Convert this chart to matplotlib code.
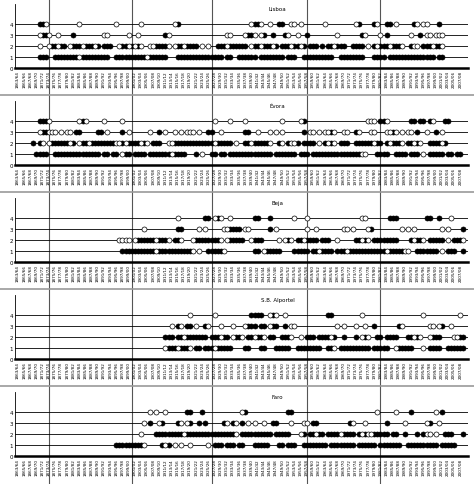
import matplotlib
matplotlib.use("Agg")
import matplotlib.pyplot as plt
from matplotlib.lines import Line2D

# estações e ano de início das séries
stations = ["Lisboa", "Évora", "Beja", "S.B. Alportel", "Faro"]
start_years = [1863, 1863, 1896, 1909, 1895]

# classes 4..1: '.' sem registo, 'o' círculo aberto, 'x' círculo cheio
lisboa_4 = ".......xxo..........o...........o.......o..........ox.......................oxxo..o..xx..oo.o.......o.........ox....xo..xx.o.....xo.oo...x..."
lisboa_3 = ".......oxxo..o....x.........oo......o..o........xo..................oo....oxxo.ox..x...xo..o..x.........o.......xo....o.x.......o..x.oo.ooo."
lisboa_2 = ".......o..oxxoxx.oxxxoxxxox.xxx..oxxoxoxo..ooxxxxo.oxxoxxxx.o.o..xxxoxxxxxx.oxxoxxxox.xxxoxxox.xxx.x.xxoxxx..xxxx.o.xoxxxoxxxo..xoo.xxxoxxo"
lisboa_1 = ".......xxx..xxxxxxxxoxxxxxxxxx..xxxxxxxxxxoxxxxxx...xxxxxxxxxxxxxxx.xx..xxxxxx.xxxxxxxx.xxx..xxxxxxxxxx..xxxxxxxx...xxxx.xxxxxxxxxxxxxxx.xx"

evora_4 = ".......xxxo.........oxo.....o.....o.............................o....o....o...........o.....ox....................ooo.xxo.......xx.xx.xo...xx."
evora_3 = ".......oxxooo.o.oo.xx.....xx.o....x.o......o..x.o..o.o.ooo.o..xx..o.......xx..o...o.o.o......x.oo.o.ooxo..oo..xo...oo...ooxo.o.oo.x..o..x.o"
evora_2 = ".....x.xo.oxxxxxxox.oxxoxxxxxxxxooxoxxxxoxo.xxx..ooxxxxxxxxxxxxxoxxxxx.o..xxoxxxxxo..xo.xoox.xxxx.o.xoxo.xxx..xxxxxxoxx.xoxxxo.xxoxo..xxxxox."
evora_1 = "......xxxx..xxxxxxxxxxxxxxx.xx.xx.oxx.xxxx.xxxxxxxoxxxx...x.o..xx.xx.xxxxxxxxxxxxxx.xxxxxxx.xxx.xxxxxxxxxxxxxxxxoo...xxxx..xxxx.xxx.o.xxxxx.xx.xx"

beja_4 = "...................o........xx.oxo..o.......xx...x.......o...o.................oo.......xxx.........xx..x...o.......xx.o"
beja_3 = "........o..........xx.....o.o.....ooxxxx.oo......x.o.........o..o........oo.o....ox.........o.o.o........o.o....x.......oo"
beja_2 = "oooo.oxxxxxxoxxxo.xxo...oxxxxxxxxo.oxxxxx..oxxx.....o.oxo.xxoxxxx.xxx..o.....xxoxo.xxxxxxxx....xoxxo.xxxxx.o.xxxo.xxoxxxo.oxx"
beja_1 = ".xxxxxxxxxxxoxxxxxxxxxxxo.o..xxxxxo.........xx.oxxxxx....xxxxx.xxoxxxx.xxxoxxxxxxxxxxxxoxxxxxoo..xxxxxxx.o.xxx..xxxxxx.xx.xxxxxxxx.xx"

sba_4 = "..........o.......o...........xxxx..oxo..o.............xx.........o...................o...........o..........xx.x........o........x......xx"
sba_3 = "....o.xo.xx.o..xo...o...o...oxxx.xx.oxx..x.oo.............o.o...o..o..x.......xo........oo.ox..o......xx.x........x.....x"
sba_2 = "..xxx.xxoxxxxxxx.xxxoxx.oxxo.xxoxxo.xx..xxxo..o.xxx.xxxxox..x...x.oxo..xx.xxxx...xxoxo..oxxx....ooxxx...oxo..o"
sba_1 = "..oxxxoxxxo.xx.xxxoxxxxx....xx...xx...xxxxx..xxxxxxxx..xxo.xxxxxxxxxx.xxxxx..oxxxxx...o.xxxx..xxxxxxxx.xxxxx.xxxx"

faro_4 = "...........o.o..o......xx...x............ox.............xx...........................o.....o....x.......o.x...............x....o......x.."
faro_3 = ".........o.x..ox....xo.ox..x.x.....xo.xo.x.o.o..o..xx....o...oo.xx..........xo...o......x.....o......ox..o...........xo...o.x.....o"
faro_2 = "........o....xxxxxxxxxoxxxxxxxxxxxxxxxxo.xxxxxxxxxx.xxxxx...ox.xxoxx.xxxxoxxxx.xoxooxxxxx.xx..x...x.xoo.o..xxx...xxx..xoo...oxx...o.xxx.oooo"
faro_1 = "xxxxxxxxxo.....xox.o.o..o.....o.xxx.xxx.xx...xxxxx...xx.xxx..xxxxxxxx.xxxxxxxx.xxxxxx.xxxxxxx..xxxxxxxxxx.xxxxx....oxxxxx.xxxxxxxx.xxxxxxxx.xxxxx"

series = [
    [lisboa_1, lisboa_2, lisboa_3, lisboa_4],
    [evora_1, evora_2, evora_3, evora_4],
    [beja_1, beja_2, beja_3, beja_4],
    [sba_1, sba_2, sba_3, sba_4],
    [faro_1, faro_2, faro_3, faro_4],
]

first_year, last_year = 1863, 2008
tick_years = list(range(first_year, last_year + 1, 2))
tick_labels = [f"{y}/{str(y + 1)[-2:]}" for y in tick_years]
period_lines = [1873, 1900, 1926, 1957, 1981]

W, H = 474, 485
fig = plt.figure(figsize=(W / 100, H / 100), dpi=100)

for k, name in enumerate(stations):
    top = 5 + 97 * k
    bottom = 69 + 97 * k
    ax = fig.add_axes([15 / W, 1 - bottom / H, 453 / W, (bottom - top) / H])
    ax.set_xlim(first_year - 1, last_year + 1.5)
    ax.set_ylim(0, 5.8)

    for lvl in range(1, 5):
        ax.axhline(lvl, color="black", lw=0.6, zorder=1)

    for lvl, s in enumerate(series[k], start=1):
        x0 = start_years[k]
        s = s[: last_year - x0 + 1]
        xf = [x0 + i for i, c in enumerate(s) if c == "x"]
        xo = [x0 + i for i, c in enumerate(s) if c == "o"]
        ax.plot(xf, [lvl] * len(xf), "o", ms=3.6, mfc="black", mec="black", mew=0.5, zorder=3)
        ax.plot(xo, [lvl] * len(xo), "o", ms=3.6, mfc="white", mec="black", mew=0.5, zorder=3)

    for y in period_lines:
        ax.axvline(y, ymin=-0.42, ymax=1.08, color="#555555", lw=0.8, clip_on=False, zorder=0)

    ax.text((first_year + last_year) / 2 + 12, 5.4, name, fontsize=4, ha="center", va="center")

    ax.set_yticks(range(5))
    ax.set_yticklabels([str(i) for i in range(5)], fontsize=4)
    ax.set_xticks(tick_years)
    ax.set_xticklabels(tick_labels, rotation=90, fontsize=3)
    ax.tick_params(length=0, pad=1.5)
    for sp in ["top", "right"]:
        ax.spines[sp].set_visible(False)
    ax.spines["bottom"].set_linewidth(1.8)
    ax.spines["left"].set_linewidth(0.6)

    if k < 4:
        yline = 1 - (96 + 97 * k) / H
        fig.add_artist(Line2D([0, 1], [yline, yline], color="#999999", lw=1.2))

fig.savefig("out.png", dpi=100)
